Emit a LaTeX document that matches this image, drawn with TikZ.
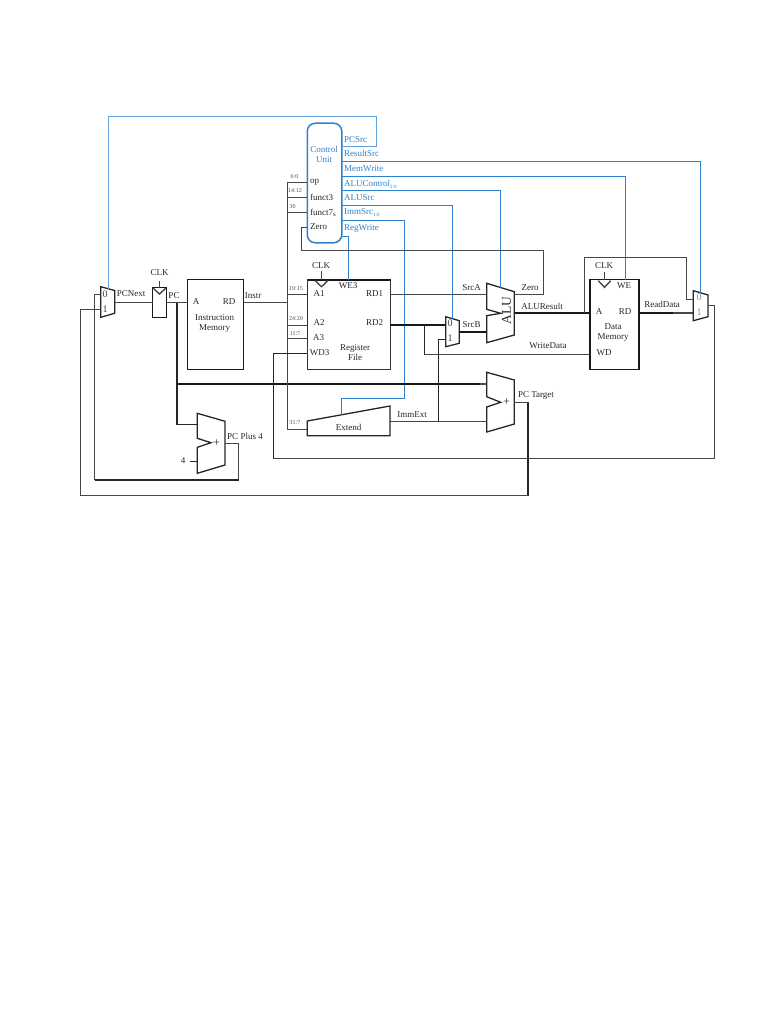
\documentclass[tikz,border=0pt]{standalone}
\usepackage{xcolor}
\usepackage{fontspec}
\setmainfont{Liberation Serif}
\usepackage{tikz}
\usetikzlibrary{calc}
\definecolor{ctlblue}{RGB}{45,130,205}

\begin{document}
\begin{tikzpicture}[
    x=1pt, y=-1pt,
    font=\fontsize{9}{10}\selectfont,
    wire/.style={draw=black!72, line width=1.4pt},
    bus/.style={draw=black!90, line width=2pt},
    midbus/.style={draw=black!85, line width=1.8pt},
    ctl/.style={draw=ctlblue, line width=1.3pt},
    part/.style={draw=black!85, line width=1.3pt, line join=miter},
    block/.style={
        rectangle,
        draw=black!80,
        line width=1.3pt,
        inner sep=0pt,
        outer sep=0pt,
        align=center
    },
    heavyblock/.style={block, draw=black!90, line width=1.9pt},
    txt/.style={inner sep=0pt, text=black!85, align=center},
    ctltxt/.style={inner sep=0pt, anchor=west, text=ctlblue},
    tag/.style={inner sep=0pt, text=black!70, font=\fontsize{6}{7}\selectfont},
    muxtxt/.style={inner sep=0pt, text=black!75, font=\fontsize{10}{10}\selectfont}
]
\useasboundingbox (0,0) rectangle (768,1024);

\node[heavyblock, minimum width=14pt, minimum height=30pt] (pcreg) at (159.5,302.5) {};
\node[heavyblock, minimum width=56pt, minimum height=90pt] (imem) at (215.5,324.5) {};
\node[block, minimum width=83pt, minimum height=90pt] (regfile) at (349,324.5) {};
\node[heavyblock, minimum width=49pt, minimum height=90pt] (dmem) at (614.5,324.5) {};
\node[rectangle, draw=ctlblue, line width=1.5pt, rounded corners=8pt, inner sep=0pt,
    minimum width=34.5pt, minimum height=119.5pt] (control) at (324.5,183) {};

\draw[bus] (regfile.north west) -- (regfile.north east);

\draw[part] (100.7,286.7) -- (114.7,290.5) -- (114.7,313.3) -- (100.7,317.3) -- cycle;
\draw[part] (445.7,316.7) -- (459.3,320.7) -- (459.3,343.3) -- (445.7,346.7) -- cycle;
\draw[part] (693.3,290.7) -- (708,295) -- (708,316.7) -- (693.3,320.7) -- cycle;
\draw[part] (486.7,283.3) -- (514.3,291.7) -- (514.3,335) -- (486.7,342.7) -- (486.7,315.7) -- (500.7,313.3) -- (486.7,309.3) -- cycle;
\draw[part] (486.7,372.3) -- (514.3,380) -- (514.3,424) -- (486.7,432) -- (486.7,407) -- (500.7,402.3) -- (486.7,396.7) -- cycle;
\draw[part] (197.3,413.3) -- (225,421.3) -- (225,465) -- (197.3,473.3) -- (197.3,447.3) -- (211,442.7) -- (197.3,438.3) -- cycle;
\draw[part] (307.3,421) -- (390,406) -- (390,435.7) -- (307.3,435.7) -- cycle;

\draw[wire] (153,288) -- (159.5,294) -- (166,288);
\draw[wire] (315,280.5) -- (321.5,286.7) -- (328,280.5);
\draw[wire] (598.3,280.7) -- (604.5,287.3) -- (610.7,280.7);

\coordinate (pcmuxin0) at (100.7,294.5);
\coordinate (pcmuxin1) at (100.7,309.5);
\coordinate (pcmuxout) at (114.7,302.5);
\coordinate (pcmuxsel) at (108.5,288.6);
\coordinate (pcjoin) at (177,302.5);
\coordinate (imema) at (187.5,302.5);
\coordinate (imemrd) at (243.5,302.5);
\coordinate (instrbus) at (287.5,302.5);
\coordinate (pcclk) at (159.5,281);
\coordinate (regclk) at (321.5,271);
\coordinate (memclk) at (604.5,272);
\coordinate (plusa) at (197.3,424.5);
\coordinate (plusb) at (197.3,461.5);
\coordinate (plusout) at (225,443.5);
\coordinate (plusturn) at (238.5,480);
\coordinate (muxback) at (94.5,480);
\coordinate (targeta) at (486.7,384);
\coordinate (targetb) at (486.7,421.5);
\coordinate (targetout) at (514.3,402.5);
\coordinate (targetturn) at (528,495.5);
\coordinate (muxfar) at (80.5,495.5);
\coordinate (opin) at (307.3,182.5);
\coordinate (funct3in) at (307.3,197.5);
\coordinate (funct7in) at (307.3,212.5);
\coordinate (zeroin) at (307.3,227.5);
\coordinate (zeroa) at (301.5,250.5);
\coordinate (zerob) at (543.5,294.5);
\coordinate (aluzero) at (514.3,294.5);
\coordinate (a1in) at (307.3,294.5);
\coordinate (a2in) at (307.3,325.5);
\coordinate (a3in) at (307.3,338.5);
\coordinate (wd3in) at (307.3,353.5);
\coordinate (rd1out) at (390,294.5);
\coordinate (rd2out) at (390,325);
\coordinate (srcain) at (486.7,294.5);
\coordinate (muxb0) at (445.7,325);
\coordinate (muxb1) at (445.7,339.5);
\coordinate (muxbout) at (459.3,332);
\coordinate (srcbin) at (486.7,332);
\coordinate (rd2join) at (424.5,325);
\coordinate (wdturnb) at (424.5,354.5);
\coordinate (wdin) at (590,354.5);
\coordinate (extin) at (307.3,429.5);
\coordinate (extout) at (390,421.5);
\coordinate (immjoin) at (438.5,421.5);
\coordinate (aluout) at (514.3,313);
\coordinate (memain) at (590,313);
\coordinate (aluback) at (584.5,313);
\coordinate (aluhop) at (686.5,257.5);
\coordinate (muxd0) at (693.3,299.5);
\coordinate (muxd1) at (693.3,313);
\coordinate (memrd) at (639,313);
\coordinate (muxdout) at (708,305.5);
\coordinate (wdturn) at (714.5,458.5);
\coordinate (wd3left) at (273.5,458.5);
\coordinate (cupcsrc) at (341.7,146.5);
\coordinate (pcsrcturn) at (376.5,116.5);
\coordinate (curesult) at (341.7,161.5);
\coordinate (muxdsel) at (700.5,292.8);
\coordinate (cumem) at (341.7,176.5);
\coordinate (memwe) at (625.5,279.5);
\coordinate (cualuctl) at (341.7,190.5);
\coordinate (aluctl) at (500.5,287.8);
\coordinate (cualusrc) at (341.7,205.5);
\coordinate (muxbsel) at (452.5,318.6);
\coordinate (cuimm) at (341.7,220.5);
\coordinate (immturn) at (404.5,398.5);
\coordinate (extsrc) at (341.7,414.8);
\coordinate (cureg) at (341.7,236.5);
\coordinate (regwe) at (348.5,279.5);

\draw[ctl, line width=1pt, draw=ctlblue!75] (cupcsrc) -| (pcsrcturn) -| (pcmuxsel);
\draw[ctl] (curesult) -| (muxdsel);
\draw[ctl] (cumem) -| (memwe);
\draw[ctl] (cualuctl) -| (aluctl);
\draw[ctl] (cualusrc) -| (muxbsel);
\draw[ctl] (cuimm) -| (immturn) -| (extsrc);
\draw[ctl] (cureg) -| (regwe);

\draw[wire] (pcmuxout) -- (pcreg.west);
\draw[wire] (pcreg.east) -- (imema);
\draw[midbus] (pcjoin) |- (plusa);
\draw[bus] (pcjoin |- targeta) -- ($(targeta)+(-7,0)$);
\draw[wire] ($(targeta)+(-7,0)$) -- (targeta);
\draw[wire] (imemrd) -- (instrbus);
\draw[wire] (pcclk) -- (pcreg.north);
\draw[wire] (regclk) -- (regfile.north -| regclk);
\draw[wire] (memclk) -- (dmem.north -| memclk);
\draw[wire] (plusout) -| (plusturn);
\draw[midbus] (plusturn) -- (muxback);
\draw[wire] (muxback) |- (pcmuxin0);
\draw[midbus] (plusb) -- ++(-7,0);
\draw[wire] (targetout) -| (targetturn);
\draw[midbus] (targetturn |- targetout) -- (targetturn);
\draw[wire] (targetturn) -| (muxfar) |- (pcmuxin1);
\draw[wire] (opin) -| (instrbus |- extin) -- (extin);
\draw[wire] (funct3in) -- (instrbus |- funct3in);
\draw[wire] (funct7in) -- (instrbus |- funct7in);
\draw[wire] (a1in) -- (instrbus |- a1in);
\draw[wire] (a2in) -- (instrbus |- a2in);
\draw[wire] (a3in) -- (instrbus |- a3in);
\draw[wire] (zeroin) -| (zeroa) -| (zerob) -- (aluzero);
\draw[wire] (rd1out) -- (srcain);
\draw[bus] (rd2out) -- (muxb0);
\draw[midbus] (rd2join) -- (wdturnb);
\draw[wire] (wdturnb) -- (wdin);
\draw[bus] (muxbout) -- (srcbin);
\draw[wire] (extout) -- (targetb);
\draw[midbus] (immjoin) |- (muxb1);
\draw[bus] (aluout) -- (memain);
\draw[wire] (aluback) |- (aluhop) |- (muxd0);
\draw[bus] (memrd) -- ($(memrd)+(34,0)$);
\draw[wire] ($(memrd)+(34,0)$) -- (muxd1);
\draw[wire] (muxdout) -| (wdturn) -- (wd3left);
\draw[midbus] (wd3left) |- (wd3in);

\node[txt] (pcclktxt) at (159.5,273) {CLK};
\node[txt] (pcnexttxt) at (131,294) {PCNext};
\node[txt] (pctxt) at (174,295.5) {PC};
\node[txt] (aatxt) at (196,302) {A};
\node[txt] (rdtxt) at (229,302) {RD};
\node[txt] (imemtxt) at (214.5,323.5) {Instruction\\Memory};
\node[txt] (instrtxt) at (253,296) {Instr};
\node[txt] (plus4txt) at (245,436) {PC Plus 4};
\node[txt] (foursign) at (183,460.5) {4};
\node[txt, font=\fontsize{12}{12}\selectfont] (plusa4) at (216.5,443) {+};
\node[txt, font=\fontsize{12}{12}\selectfont] (plusb4) at (506.5,402) {+};
\node[txt] (regclktxt) at (321,265.5) {CLK};
\node[txt] (we3txt) at (348,286) {WE3};
\node[txt] (a1txt) at (319,294) {A1};
\node[txt] (a2txt) at (319,323) {A2};
\node[txt] (a3txt) at (318.5,338) {A3};
\node[txt] (wd3txt) at (319.5,353) {WD3};
\node[txt] (rd1txt) at (374.5,294) {RD1};
\node[txt] (rd2txt) at (374.5,323) {RD2};
\node[txt] (regtxt) at (355,353) {Register\\File};
\node[txt] (exttxt) at (348.5,427) {Extend};
\node[txt] (immexttxt) at (412,415) {ImmExt};
\node[txt] (srcatxt) at (471.5,288) {SrcA};
\node[txt] (srcbtxt) at (471.5,325) {SrcB};
\node[txt, font=\fontsize{13.5}{14}\selectfont, rotate=90] (alutxt) at (506.5,310.5) {ALU};
\node[txt] (zerotxt) at (530,288) {Zero};
\node[txt] (alurestxt) at (542,306) {ALUResult};
\node[txt] (wdatatxt) at (548,346) {WriteData};
\node[txt] (targettxt) at (536,395) {PC Target};
\node[txt] (memclktxt) at (604,265.5) {CLK};
\node[txt] (wetxt) at (624,286) {WE};
\node[txt] (matxt) at (599,312) {A};
\node[txt] (mrdtxt) at (625,312) {RD};
\node[txt] (dmemtxt) at (613,332.5) {Data\\Memory};
\node[txt] (wdtxt) at (604,353) {WD};
\node[txt] (rdatatxt) at (662,304.5) {ReadData};

\node[muxtxt] (pcm0) at (105,294) {0};
\node[muxtxt] (pcm1) at (105,309) {1};
\node[muxtxt] (bm0) at (450,323) {0};
\node[muxtxt] (bm1) at (450,338) {1};
\node[muxtxt, text=black!45] (dm0) at (699,297) {0};
\node[muxtxt, text=black!45] (dm1) at (699,312) {1};

\node[inner sep=0pt, align=center, text=ctlblue] (cutxt) at (324,154) {Control\\Unit};
\node[txt, anchor=west] (optxt) at (310,182.5) {op};
\node[txt, anchor=west] (f3txt) at (310,197.5) {funct3};
\node[txt, anchor=west] (f7txt) at (310,212.5) {funct7\raisebox{-1pt}{\fontsize{7}{7}\selectfont s}};
\node[txt, anchor=west] (zinxt) at (310,227) {Zero};
\node[ctltxt] (pcsrctxt) at (344,139.5) {PCSrc};
\node[ctltxt] (restxt) at (344,153.5) {ResultSrc};
\node[ctltxt] (mwtxt) at (344,169) {MemWrite};
\node[ctltxt] (actltxt) at (344,184) {ALUControl\raisebox{-2pt}{\fontsize{5}{5}\selectfont 2:0}};
\node[ctltxt] (asrctxt) at (344,198) {ALUSrc};
\node[ctltxt] (isrctxt) at (344,213) {ImmSrc\raisebox{-2pt}{\fontsize{5}{5}\selectfont 1:0}};
\node[ctltxt] (rwtxt) at (344,228) {RegWrite};

\node[tag] (t60) at (294.5,176.5) {6:0};
\node[tag] (t1412) at (295,191) {14:12};
\node[tag] (t30) at (292.5,207) {30};
\node[tag] (t1915) at (296,288.5) {19:15};
\node[tag] (t2420) at (296,319) {24:20};
\node[tag] (t117) at (295,334) {11:7};
\node[tag] (t317) at (295,423) {31:7};

\end{tikzpicture}
\end{document}
